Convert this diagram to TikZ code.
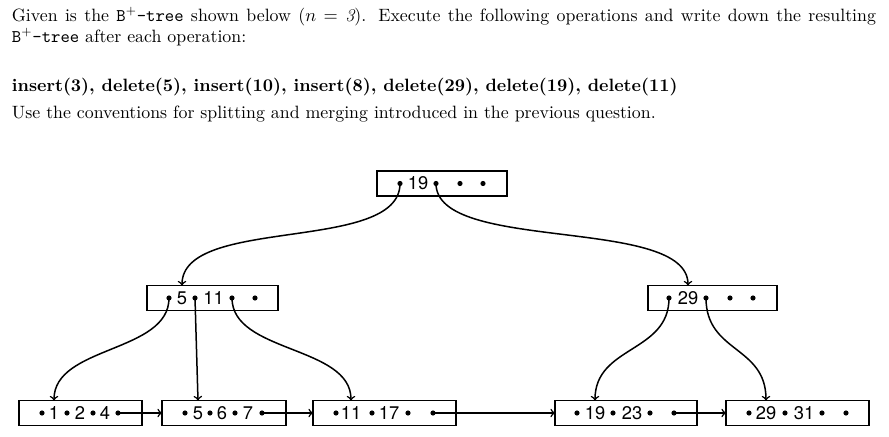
\documentclass[tikz,border=0pt]{standalone}
\usepackage{amsmath,amssymb}
\usepackage{fontspec}
\newfontfamily\keyfont{TeX Gyre Heros}
\usetikzlibrary{calc}

\begin{document}
\begin{tikzpicture}[x=0.6pt, y=-0.6pt, every node/.style={inner sep=0pt,outer sep=0pt},
    txt/.style={font=\fontsize{10.7pt}{12.4pt}\selectfont},
    box/.style={draw, line width=0.9pt, minimum height=15pt},
    ptr/.style={circle, fill, minimum size=3.1pt},
    key/.style={font=\keyfont\fontsize{11pt}{13pt}\selectfont},
    link/.style={line width=0.9pt, ->, >=to}]
      \useasboundingbox (0,0) rectangle (889,437);

      % text above the tree
      \draw (12,7.6) node[txt, anchor=north west, text width=518.4pt, align=justify] (task)
        {Given is the \texttt{B$^+$-tree} shown below ($n = \mathit{3}$). Execute the following operations and write down the resulting\linebreak \texttt{B$^+$-tree} after each operation:};
      \draw (12,92) node[txt, anchor=base west] (ops)
        {\textbf{insert(3), delete(5), insert(10), insert(8), delete(29), delete(19), delete(11)}};
      \draw (12,119) node[txt, anchor=base west] (hint)
        {Use the conventions for splitting and merging introduced in the previous question.};

      % boxes
      \draw (442,183.5) node[box, minimum width=78pt] (nr) {};
      \draw (212.5,298) node[box, minimum width=78.6pt] (na) {};
      \draw (712.5,298) node[box, minimum width=77.4pt] (nb) {};
      \draw (80.5,413) node[box, minimum width=73.8pt] (l1) {};
      \draw (224,413) node[box, minimum width=74.4pt] (l2) {};
      \draw (384.5,413) node[box, minimum width=85.8pt] (l3) {};
      \draw (626,413) node[box, minimum width=85.2pt] (l4) {};
      \draw (797.5,413) node[box, minimum width=85.8pt] (l5) {};

      % root
      \draw (400,183.5) node[ptr] (r0) {};
      \draw (418,183.5) node[key] (r1) {19};
      \draw (436,183.5) node[ptr] (r2) {};
      \draw (460,183.5) node[ptr] (r3) {};
      \draw (483,183.5) node[ptr] (r4) {};

      % inner nodes
      \draw (169,298) node[ptr] (a0) {};
      \draw (182,298) node[key] (a1) {5};
      \draw (195,298) node[ptr] (a2) {};
      \draw (213.5,298) node[key] (a3) {11};
      \draw (232,298) node[ptr] (a4) {};
      \draw (255,298) node[ptr] (a5) {};

      \draw (669,298) node[ptr] (b0) {};
      \draw (688,298) node[key] (b1) {29};
      \draw (706,298) node[ptr] (b2) {};
      \draw (730,298) node[ptr] (b3) {};
      \draw (753,298) node[ptr] (b4) {};

      % leaves
      \draw (42,413) node[ptr] (l1p0) {};
      \draw (54,413) node[key] (l1k1) {1};
      \draw (67,413) node[ptr] (l1p1) {};
      \draw (80,413) node[key] (l1k2) {2};
      \draw (93,413) node[ptr] (l1p2) {};
      \draw (105,413) node[key] (l1k3) {4};
      \draw (118,413) node[ptr] (l1p3) {};

      \draw (185,413) node[ptr] (l2p0) {};
      \draw (198,413) node[key] (l2k1) {5};
      \draw (210,413) node[ptr] (l2p1) {};
      \draw (222,413) node[key] (l2k2) {6};
      \draw (235,413) node[ptr] (l2p2) {};
      \draw (248,413) node[key] (l2k3) {7};
      \draw (262,413) node[ptr] (l2p3) {};

      \draw (336,413) node[ptr] (l3p0) {};
      \draw (351,413) node[key] (l3k1) {11};
      \draw (372,413) node[ptr] (l3p1) {};
      \draw (389,413) node[key] (l3k2) {17};
      \draw (408,413) node[ptr] (l3p2) {};
      \draw (433,413) node[ptr] (l3p3) {};

      \draw (577,413) node[ptr] (l4p0) {};
      \draw (595,413) node[key] (l4k1) {19};
      \draw (613,413) node[ptr] (l4p1) {};
      \draw (632,413) node[key] (l4k2) {23};
      \draw (650,413) node[ptr] (l4p2) {};
      \draw (674,413) node[ptr] (l4p3) {};

      \draw (749,413) node[ptr] (l5p0) {};
      \draw (766,413) node[key] (l5k1) {29};
      \draw (785,413) node[ptr] (l5p1) {};
      \draw (804,413) node[key] (l5k2) {31};
      \draw (822,413) node[ptr] (l5p2) {};
      \draw (846,413) node[ptr] (l5p3) {};

      % child pointers
      \draw[link] (r0.center) .. controls +(0,70) and +(0,-70) .. (na.north -| a1);
      \draw[link] (r2.center) .. controls +(0,70) and +(0,-70) .. (nb.north -| b1);

      \draw[link] (a0.center) .. controls +(0,55) and +(0,-55) .. (l1.north -| l1k1);
      \draw[link] (a2.center) -- (l2.north -| l2k1);
      \draw[link] (a4.center) .. controls +(0,55) and +(0,-55) .. (l3.north -| l3k1);

      \draw[link] (b0.center) .. controls +(0,55) and +(0,-55) .. (l4.north -| l4k1);
      \draw[link] (b2.center) .. controls +(0,55) and +(0,-55) .. (l5.north -| l5k1);

      % leaf chain
      \draw[link] (l1p3.center) -- (l2.west);
      \draw[link] (l2p3.center) -- (l3.west);
      \draw[link] (l3p3.center) -- (l4.west);
      \draw[link] (l4p3.center) -- (l5.west);
    \end{tikzpicture}
\end{document}
